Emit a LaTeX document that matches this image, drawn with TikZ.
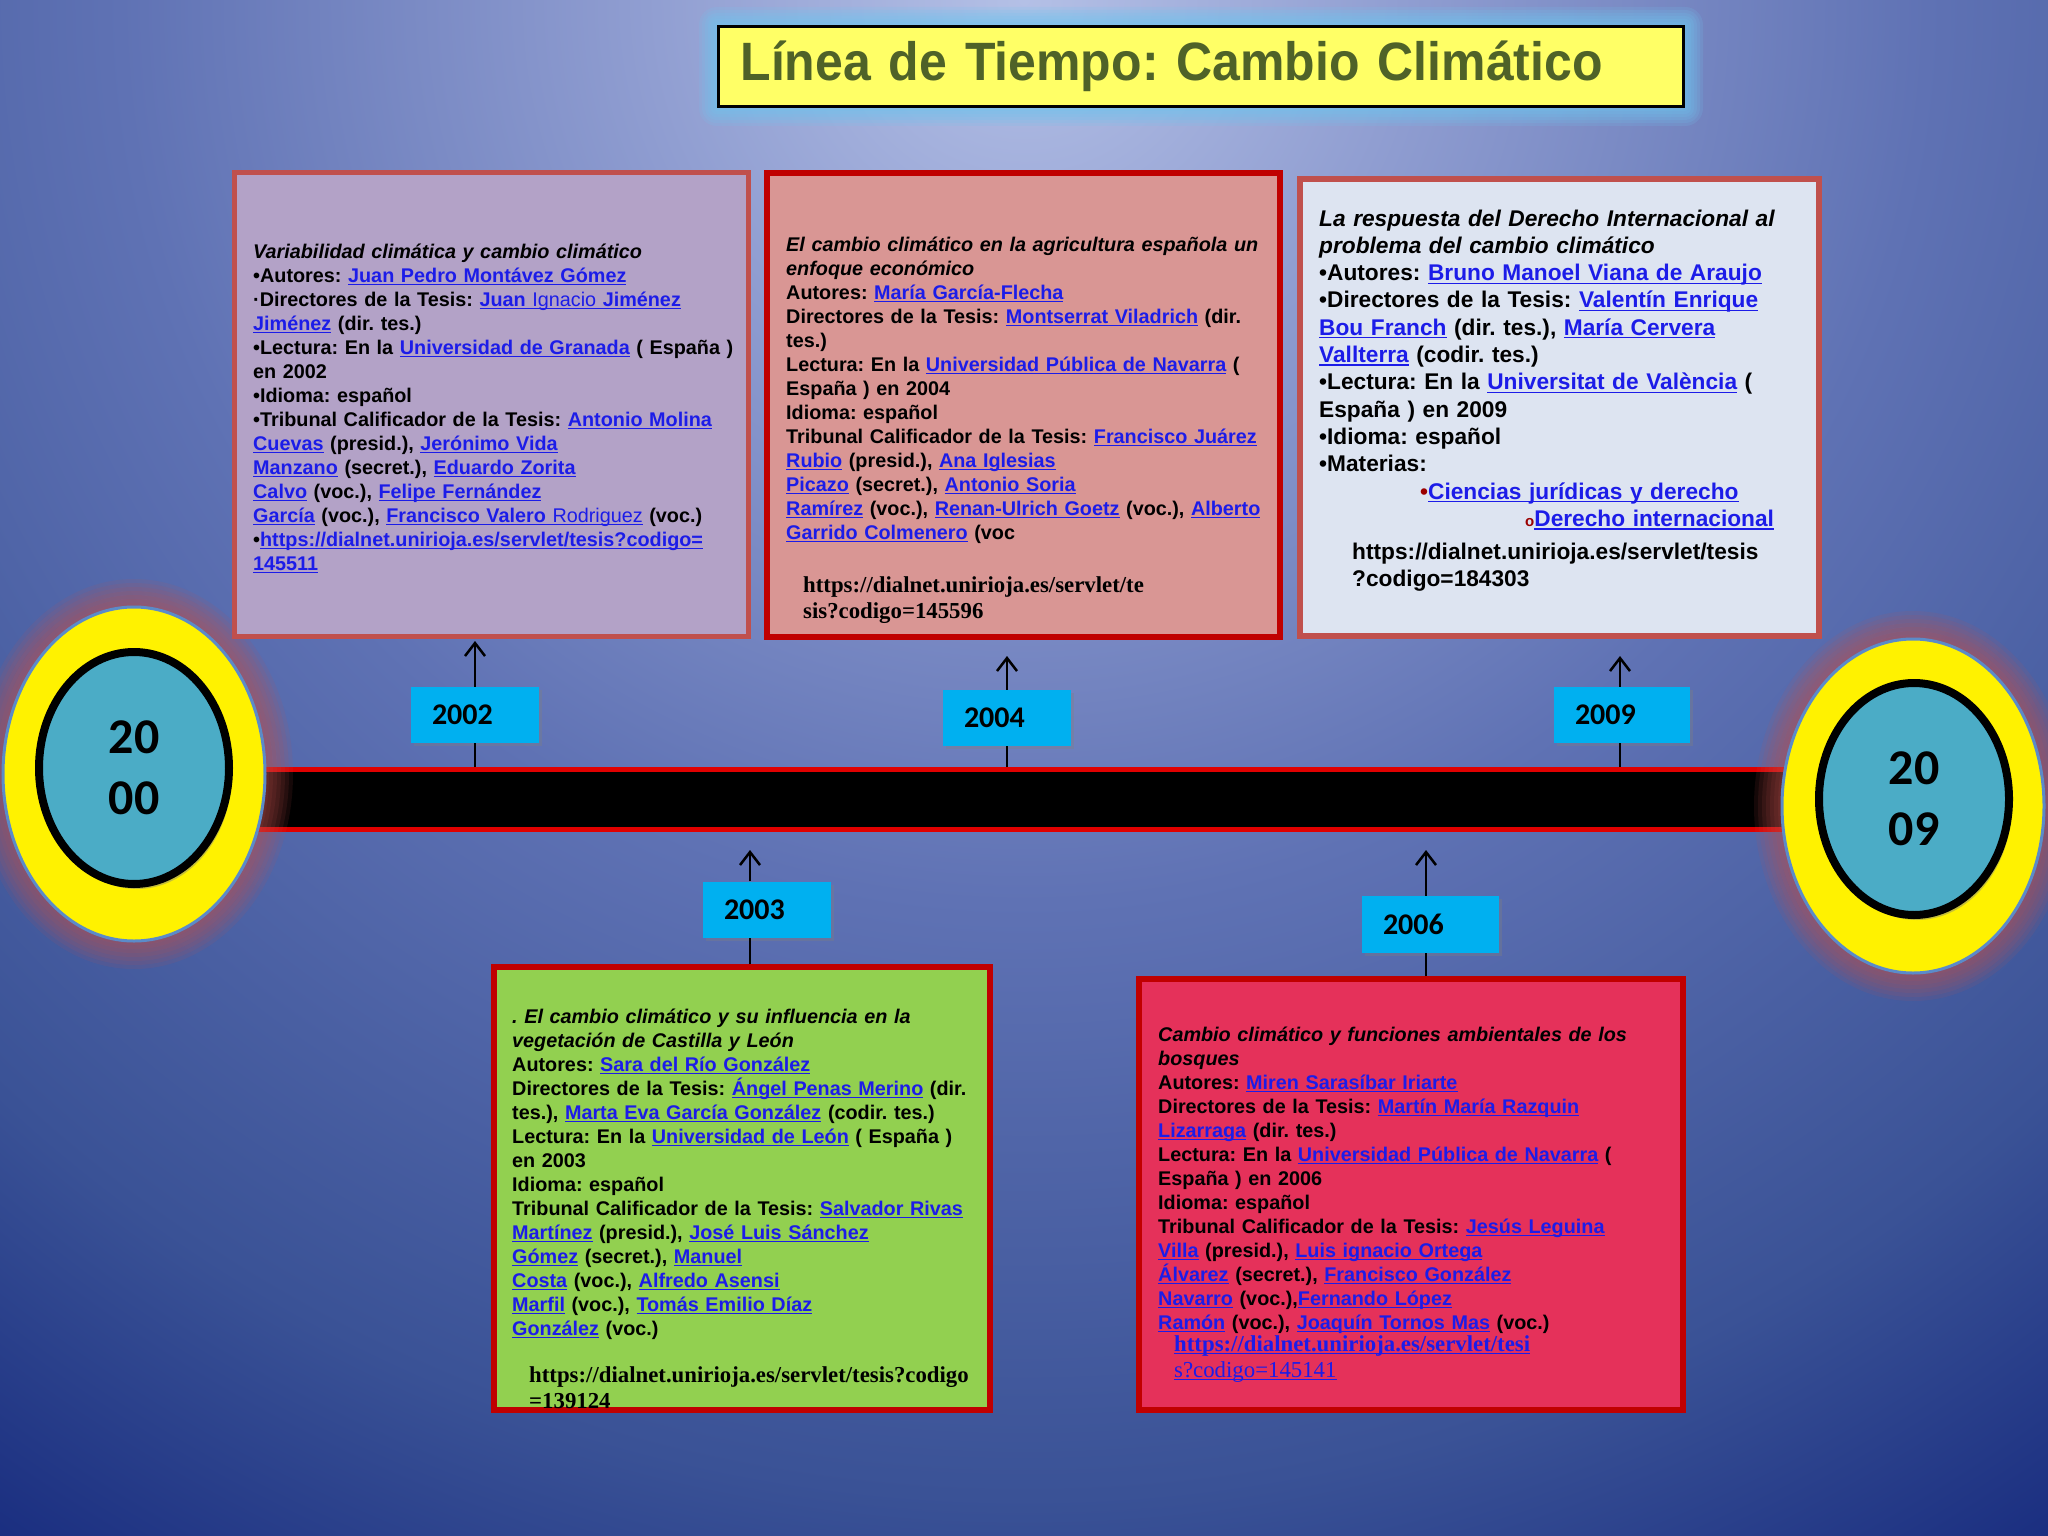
\documentclass[tikz,border=0pt]{standalone}
\usepackage{fontspec}
\setmainfont{Liberation Sans}
\newfontfamily\yearfont{Carlito}
\newfontfamily\serifurl{Liberation Serif}
\newfontfamily\titlefont[FakeStretch=0.925]{Liberation Sans}
\usetikzlibrary{positioning,arrows.meta}
\usetikzlibrary{shapes.geometric,shadows}
\frenchspacing

\definecolor{bgA}{HTML}{B4C0E6}
\definecolor{bgB}{HTML}{8E9CD0}
\definecolor{bgC}{HTML}{5F72B4}
\definecolor{bgD}{HTML}{3A5296}
\definecolor{bgE}{HTML}{1A2E80}
\definecolor{linkblue}{HTML}{1C1CE8}
\definecolor{titlegreen}{HTML}{4F6228}
\definecolor{titleyellow}{HTML}{FFFF66}
\definecolor{titleglow}{HTML}{6FC6F0}
\definecolor{cyanlabel}{HTML}{00B0F0}
\definecolor{ringteal}{HTML}{4BACC6}
\definecolor{ringedge}{HTML}{5B8BC9}
\definecolor{glowred}{HTML}{C0504D}
\definecolor{barred}{HTML}{E00000}
\definecolor{boxlav}{HTML}{B3A2C7}
\definecolor{boxrose}{HTML}{D99694}
\definecolor{boxpale}{HTML}{DDE4F1}
\definecolor{boxgreen}{HTML}{92D050}
\definecolor{boxcrimson}{HTML}{E5315A}
\definecolor{edgered}{HTML}{C00000}
\definecolor{edgesoft}{HTML}{C0504D}
\definecolor{bulletred}{HTML}{9B0000}

\pgfdeclareradialshading{bgglow}{\pgfpoint{0bp}{0bp}}{color(0bp)=(bgA); color(6.25bp)=(bgB); color(14.1bp)=(bgC); color(23.4bp)=(bgD); color(28.9bp)=(bgE); color(50bp)=(bgE)}

\newsavebox\lkbox
\newcommand\lk[1]{\textcolor{linkblue}{\sbox\lkbox{#1}\rlap{\rule[-3.2pt]{\wd\lkbox}{1.3pt}}\usebox\lkbox}}

\begin{document}
\begin{tikzpicture}[x=1pt,y=-1pt,
  paper/.style={anchor=base west,inner sep=0pt,text width=600pt,align=left,
    font=\bfseries\fontsize{19.8}{24}\selectfont},
  urltext/.style={anchor=base west,inner sep=0pt,text width=600pt,align=left,
    font=\serifurl\bfseries\fontsize{22.8}{26}\selectfont},
  thesis/.style={draw=edgered,line width=6pt,inner sep=0pt},
  yearlbl/.style={fill=cyanlabel,minimum height=56pt,inner xsep=21pt,inner ysep=0pt,
    text width=86pt,align=left,font=\yearfont\bfseries\fontsize{30}{30}\selectfont,
    drop shadow={shadow xshift=3pt,shadow yshift=-3pt,opacity=0.35}},
  endring/.style={ellipse,fill=yellow,draw=ringedge,line width=3pt,
    minimum width=262pt,minimum height=334pt,inner sep=0pt},
  endyear/.style={ellipse,fill=ringteal,draw=black,line width=8pt,
    minimum width=190pt,minimum height=232pt,inner sep=0pt,align=center,
    font=\yearfont\bfseries\fontsize{50}{61}\selectfont,
    drop shadow={shadow xshift=3pt,shadow yshift=-5pt,opacity=0.45}},
  tick/.style={line width=2.5pt},
  pointer/.style={line width=2.5pt,-{Straight Barb[length=13pt,width=20pt]}}]

  \useasboundingbox (0,0) rectangle (2048,1536);
  \begin{scope}
    \clip (0,0) rectangle (2048,1536);
    \shade[shading=bgglow] (-576,-1600) rectangle (2624,1600);
  \end{scope}

  \foreach \g in {3,6,...,18}
    \fill[titleglow,opacity=0.16,rounded corners=\g pt] (717-\g,25-\g) rectangle (1685+\g,108+\g);
  \node[draw=black,line width=3pt,fill=titleyellow,minimum height=80pt,text width=921pt,
    inner xsep=22pt,inner ysep=0pt,align=left,text=titlegreen,
    font=\titlefont\bfseries\fontsize{54}{60}\selectfont] (title) at (1201,66.5)
    {Línea de Tiempo: Cambio Climático};

  \node[fill=black,draw=barred,line width=5pt,minimum width=1560pt,minimum height=60pt,inner sep=0pt] (bar) at (1022,799.5) {};

  \foreach \g in {4,8,...,28} {
    \fill[glowred,opacity=0.11] (134,774) ellipse [x radius=131+\g, y radius=167+\g];
    \fill[glowred,opacity=0.11] (1913,806) ellipse [x radius=131+\g, y radius=167+\g];
  }
  \node[endring] (ring2000) at (134,774) {};
  \node[endyear] (yr2000) at (134,768) {20\\00};
  \node[endring] (ring2009) at (1913,806) {};
  \node[endyear] (yr2009) at (1914,799) {20\\09};

  \node[thesis,draw=edgesoft,line width=5pt,fill=boxlav,minimum width=514pt,minimum height=464pt] (b2002) at (491.5,404.5) {};
  \node[thesis,fill=boxrose,minimum width=513pt,minimum height=464pt] (b2004) at (1023.5,405) {};
  \node[thesis,draw=edgesoft,fill=boxpale,minimum width=519pt,minimum height=457pt] (b2009) at (1559.5,407.5) {};
  \node[thesis,fill=boxgreen,minimum width=496pt,minimum height=443pt] (b2003) at (742,1188.5) {};
  \node[thesis,fill=boxcrimson,minimum width=544pt,minimum height=431pt] (b2006) at (1411,1194.5) {};

  \node[paper] (t2002) at (253,258) {\textit{Variabilidad climática y cambio climático}\\
    •Autores: \lk{Juan Pedro Montávez Gómez}\\
    ·Directores de la Tesis: \lk{Juan {\mdseries Ignacio} Jiménez}\\
    \lk{Jiménez} (dir. tes.)\\
    •Lectura: En la \lk{Universidad de Granada} ( España )\\
    en 2002\\
    •Idioma: español\\
    •Tribunal Calificador de la Tesis: \lk{Antonio Molina}\\
    \lk{Cuevas} (presid.), \lk{Jerónimo Vida}\\
    \lk{Manzano} (secret.), \lk{Eduardo Zorita}\\
    \lk{Calvo} (voc.), \lk{Felipe Fernández}\\
    \lk{García} (voc.), \lk{Francisco Valero {\mdseries Rodriguez}} (voc.)\\
    •\lk{https://dialnet.unirioja.es/servlet/tesis?codigo=}\\
    \lk{145511}};

  \node[paper] (t2004) at (786,251) {\textit{El cambio climático en la agricultura española un}\\
    \textit{enfoque económico}\\
    Autores: \lk{María García-Flecha}\\
    Directores de la Tesis: \lk{Montserrat Viladrich} (dir.\\
    tes.)\\
    Lectura: En la \lk{Universidad Pública de Navarra} (\\
    España ) en 2004\\
    Idioma: español\\
    Tribunal Calificador de la Tesis: \lk{Francisco Juárez}\\
    \lk{Rubio} (presid.), \lk{Ana Iglesias}\\
    \lk{Picazo} (secret.), \lk{Antonio Soria}\\
    \lk{Ramírez} (voc.), \lk{Renan-Ulrich Goetz} (voc.), \lk{Alberto}\\
    \lk{Garrido Colmenero} (voc};
  \node[urltext] (u2004) at (803,592) {https://dialnet.unirioja.es/servlet/te\\sis?codigo=145596};

  \node[paper,font=\bfseries\fontsize{22.7}{27.3}\selectfont] (t2009) at (1319,226) {\textit{La respuesta del Derecho Internacional al}\\
    \textit{problema del cambio climático}\\
    •Autores: \lk{Bruno Manoel Viana de Araujo}\\
    •Directores de la Tesis: \lk{Valentín Enrique}\\
    \lk{Bou Franch} (dir. tes.), \lk{María Cervera}\\
    \lk{Vallterra} (codir. tes.)\\
    •Lectura: En la \lk{Universitat de València} (\\
    España ) en 2009\\
    •Idioma: español\\
    •Materias:\\
    \hspace*{101pt}{\color{bulletred}•}\lk{Ciencias jurídicas y derecho}\\
    \hspace*{206pt}{\color{bulletred}\fontsize{15}{15}\selectfont o}\lk{Derecho internacional}\\[6pt]
    \hspace*{33pt}https://dialnet.unirioja.es/servlet/tesis\\
    \hspace*{33pt}?codigo=184303};

  \node[paper] (t2003) at (512,1023) {\textit{. El cambio climático y su influencia en la}\\
    \textit{vegetación de Castilla y León}\\
    Autores: \lk{Sara del Río González}\\
    Directores de la Tesis: \lk{Ángel Penas Merino} (dir.\\
    tes.), \lk{Marta Eva García González} (codir. tes.)\\
    Lectura: En la \lk{Universidad de León} ( España )\\
    en 2003\\
    Idioma: español\\
    Tribunal Calificador de la Tesis: \lk{Salvador Rivas}\\
    \lk{Martínez} (presid.), \lk{José Luis Sánchez}\\
    \lk{Gómez} (secret.), \lk{Manuel}\\
    \lk{Costa} (voc.), \lk{Alfredo Asensi}\\
    \lk{Marfil} (voc.), \lk{Tomás Emilio Díaz}\\
    \lk{González} (voc.)};
  \node[urltext] (u2003) at (529,1382) {https://dialnet.unirioja.es/servlet/tesis?codigo\\=139124};

  \node[paper] (t2006) at (1158,1041) {\textit{Cambio climático y funciones ambientales de los}\\
    \textit{bosques}\\
    Autores: \lk{Miren Sarasíbar Iriarte}\\
    Directores de la Tesis: \lk{Martín María Razquin}\\
    \lk{Lizarraga} (dir. tes.)\\
    Lectura: En la \lk{Universidad Pública de Navarra} (\\
    España ) en 2006\\
    Idioma: español\\
    Tribunal Calificador de la Tesis: \lk{Jesús Leguina}\\
    \lk{Villa} (presid.), \lk{Luis ignacio Ortega}\\
    \lk{Álvarez} (secret.), \lk{Francisco González}\\
    \lk{Navarro} (voc.),\lk{Fernando López}\\
    \lk{Ramón} (voc.), \lk{Joaquín Tornos Mas} (voc.)};
  \node[urltext] (u2006) at (1174,1351) {\lk{https://dialnet.unirioja.es/servlet/tesi}\\{\mdseries\lk{s?codigo=145141}}};

  \node[yearlbl] (y2002) at (475,715) {2002};
  \node[yearlbl] (y2004) at (1007,718) {2004};
  \node[yearlbl,text width=94pt] (y2009) at (1622,715) {2009};
  \node[yearlbl] (y2003) at (767,909.5) {2003};
  \node[yearlbl,text width=95pt,minimum height=57pt] (y2006) at (1430.5,924.5) {2006};

  \coordinate (a2002) at (475,0);
  \coordinate (a2004) at (1007,0);
  \coordinate (a2009) at (1620,0);
  \coordinate (a2003) at (750,0);
  \coordinate (a2006) at (1426,0);

  \draw[tick] (a2002 |- bar.north) -- (a2002 |- y2002.south);
  \draw[pointer,shorten >=2pt] (a2002 |- y2002.north) -- (a2002 |- b2002.south);
  \draw[tick] (a2004 |- bar.north) -- (a2004 |- y2004.south);
  \draw[pointer,shorten >=16pt] (a2004 |- y2004.north) -- (a2004 |- b2004.south);
  \draw[tick] (a2009 |- bar.north) -- (a2009 |- y2009.south);
  \draw[pointer,shorten >=17pt] (a2009 |- y2009.north) -- (a2009 |- b2009.south);
  \draw[tick] (a2003 |- b2003.north) -- (a2003 |- y2003.south);
  \draw[pointer,shorten >=18pt] (a2003 |- y2003.north) -- (a2003 |- bar.south);
  \draw[tick] (a2006 |- b2006.north) -- (a2006 |- y2006.south);
  \draw[pointer,shorten >=18pt] (a2006 |- y2006.north) -- (a2006 |- bar.south);
\end{tikzpicture}
\end{document}
